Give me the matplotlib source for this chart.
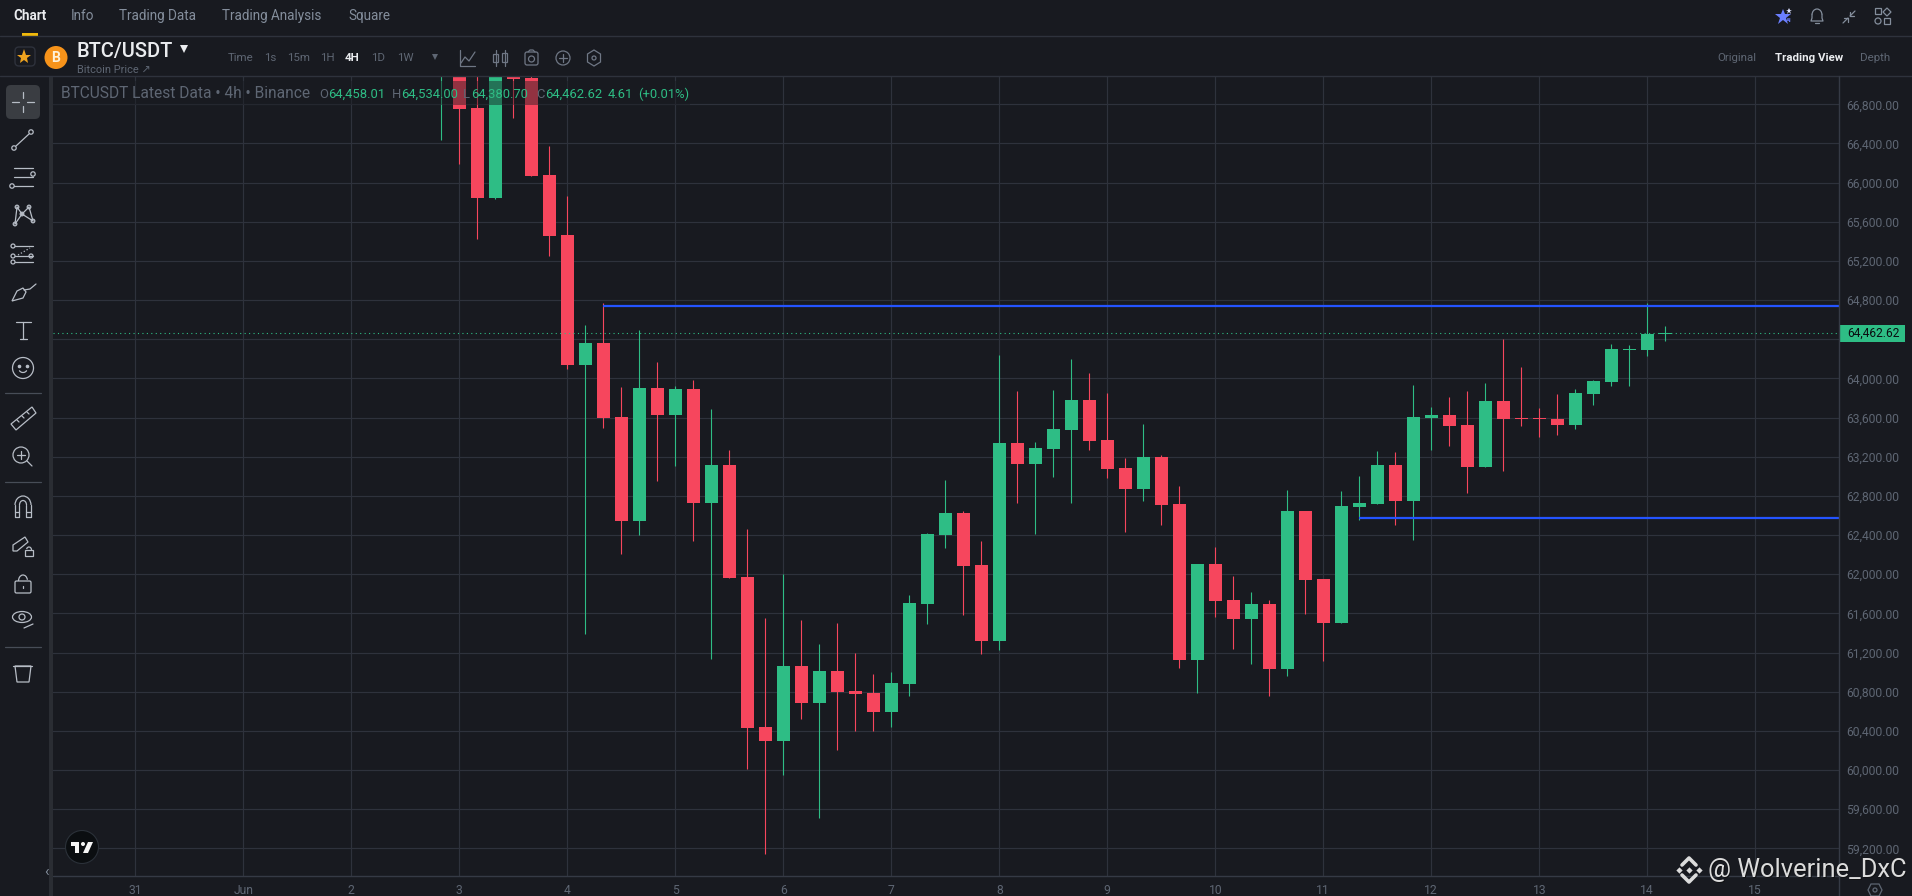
import numpy as np
import matplotlib
matplotlib.use('Agg')
import matplotlib.pyplot as plt
from matplotlib.patches import Circle, Ellipse, FancyBboxPatch, Polygon, Rectangle, Arc

plt.rcParams['font.family'] = ['Roboto', 'DejaVu Sans']

# 4h candles, first one is Jun 2 20:00. Those above the top of the window are estimates
first_day = 2 + 5 / 6
opens = [67200, 67200, 66762, 65842, 67130, 67068, 66077, 65464, 64137, 64361, 63605, 62543,
         63902, 63626, 63891, 62727, 63115, 61971, 60439, 60296, 61062, 60684, 61011, 60806,
         60786, 60592, 60878, 61695, 62400, 62625, 62094, 61317, 63340, 63125, 63279, 63473,
         63779, 63370, 63084, 62870, 63197, 62717, 61123, 62104, 61736, 61542, 61695, 61031,
         62645, 61951, 61501, 62686, 62717, 63115, 62747, 63595, 63626, 63524, 63095, 63769,
         63595, 63595, 63585, 63524, 63840, 63963, 64290, 64290, 64458.01]
highs = [67300, 67250, 67150, 67200, 67180, 67100, 66374, 65863, 64545, 64770, 63912, 64494,
         64167, 63922, 63983, 63687, 63268, 62461, 61552, 62002, 61532, 61287, 61501, 61195,
         60980, 61001, 61787, 62420, 62962, 62645, 62339, 64239, 63871, 63350, 63881, 64198,
         64055, 63851, 63186, 63534, 63217, 62901, 62104, 62277, 61981, 61818, 61736, 62860,
         62645, 61951, 62849, 63003, 63258, 63248, 63932, 63707, 63810, 63871, 63953, 64402,
         64116, 63697, 63840, 63891, 63983, 64351, 64341, 64770, 64534.00]
lows = [66435, 66190, 65424, 65832, 66660, 66067, 65250, 64096, 61389, 63493, 62206, 62400,
        62952, 63105, 62339, 61133, 61961, 60010, 59141, 59948, 60520, 59509, 60204, 60398,
        60398, 60439, 60755, 61491, 62267, 61583, 61184, 61225, 62727, 62410, 62992, 62727,
        63268, 62982, 62431, 62747, 62502, 61041, 60786, 61562, 61235, 61082, 60755, 60960,
        61593, 61113, 61501, 62553, 62717, 62502, 62349, 63268, 63309, 62829, 63095, 63054,
        63513, 63401, 63421, 63483, 63728, 63922, 63922, 64228, 64380.70]
closes = [67250, 66752, 65842, 67140, 67058, 66067, 65454, 64137, 64361, 63595, 62543, 63902,
          63626, 63891, 62727, 63115, 61961, 60428, 60296, 61062, 60684, 61011, 60796, 60776,
          60592, 60888, 61705, 62410, 62625, 62083, 61317, 63340, 63125, 63289, 63483, 63779,
          63360, 63074, 62870, 63197, 62706, 61123, 62104, 61726, 61542, 61695, 61031, 62645,
          61940, 61501, 62696, 62727, 63115, 62747, 63605, 63626, 63513, 63095, 63769, 63585,
          63585, 63585, 63524, 63851, 63973, 64300, 64300, 64458.01, 64462.62]

level_prices = [64739, 62574]
level_starts = [4 + 2 / 6, 11 + 2 / 6]
last_price = 64462.62

y_ticks = [59200, 59600, 60000, 60400, 60800, 61200, 61600, 62000, 62400, 62800, 63200, 63600,
           64000, 64400, 64800, 65200, 65600, 66000, 66400, 66800]
x_ticks = [0, 1, 2, 3, 4, 5, 6, 7, 8, 9, 10, 11, 12, 13, 14, 15]
x_labels = ['31', 'Jun', '2', '3', '4', '5', '6', '7', '8', '9', '10', '11', '12', '13', '14', '15']

BG = '#181a20'
GRID = '#2e323c'
UP = '#2ebd85'
DOWN = '#f6465d'
BLUE = '#2454ff'
MUTED = '#848e9c'
AXIS_TXT = '#5e6673'
ICON = '#b7bdc6'

W, H = 1912, 896
fig = plt.figure(figsize=(W / 100, H / 100), dpi=100, facecolor=BG)

"""
Chart window
"""
left, right, top, bottom = 53, 1839.5, 76.3, 876.3
ax = fig.add_axes([left / W, 1 - bottom / H, (right - left) / W, (bottom - top) / H], facecolor=BG)
ax.set_xlim(-0.762, 15.78)
ax.set_ylim(58914, 67086)

times = first_day + np.arange(len(opens)) / 6
o = np.array(opens)
c = np.array(closes)
up = c >= o
colors = np.where(up, UP, DOWN)

ax.vlines(times, lows, highs, colors=colors, lw=0.8, zorder=3)
heights = np.maximum(np.abs(c - o), 10)
ax.bar(times, heights, bottom=np.minimum(o, c), width=13 / 108, color=colors, lw=0, zorder=4)

ax.set_xticks(x_ticks)
ax.set_xticklabels(x_labels)
ax.set_yticks(y_ticks)
# the 64,400 label sits behind the price tag in the picture
ax.set_yticklabels(['' if v == 64400 else '{:,.2f}'.format(v) for v in y_ticks])
ax.yaxis.tick_right()
ax.grid(True, color=GRID, lw=0.85, zorder=0)
ax.set_axisbelow(True)
ax.tick_params(axis='y', length=0, pad=5.0, labelsize=8.7, labelcolor=AXIS_TXT)
ax.tick_params(axis='x', length=0, pad=5.5, labelsize=8.7, labelcolor=AXIS_TXT)
for lbl in ax.get_yticklabels():
    lbl.set_va('center_baseline')
for s in ax.spines.values():
    s.set_visible(False)

ax.hlines(level_prices, level_starts, 15.78, colors=BLUE, lw=1.6, zorder=5)
ax.axhline(last_price, color=UP, lw=0.8, ls=(0, (1, 3)), zorder=6)

"""
Interface drawn over the chart, in pixels
"""
ui = fig.add_axes([0, 0, 1, 1], zorder=10)
ui.set_xlim(0, W)
ui.set_ylim(H, 0)
ui.axis('off')


def txt(x, y, s, px=12, color=MUTED, weight='normal', ha='left', **kw):
    ui.text(x, y, s, fontsize=px * 0.72, color=color, fontweight=weight, ha=ha, va='center', **kw)


def ln(xs, ys, color=ICON, lw=0.9, **kw):
    ui.plot(xs, ys, color=color, lw=lw, solid_capstyle='round', **kw)


def ring(x, y, r, color=ICON, lw=0.9):
    ui.add_patch(Circle((x, y), r, fill=False, ec=color, lw=lw))


# frame lines
ln([0, W], [36, 36], GRID, 1.0)
ln([0, W], [76, 76], GRID, 1.0)
ln([left, right], [bottom, bottom], '#353a45', 1.0)
ln([right, right], [76, H], '#353a45', 1.0)
ui.add_patch(Rectangle((49.5, 76), 3.5, H - 76, fc='#2a2d33', lw=0))
ui.add_patch(Rectangle((22, 33.5), 16, 2.5, fc='#f0b90b', lw=0))

# tabs
txt(13, 16, 'Chart', 13.5, '#eaecef', 'bold')
for x, s in [(71, 'Info'), (119, 'Trading Data'), (222, 'Trading Analysis'), (348, 'Square')]:
    txt(x, 16, s, 13.5, MUTED)

# symbol row
ui.add_patch(FancyBboxPatch((15, 47), 20, 19, boxstyle='round,pad=0,rounding_size=4', fc='none', ec='#2e323c', lw=1))
ui.plot([24.5], [57.5], marker='*', ms=11, color='#f0a41f', mew=0)
ui.add_patch(Circle((56, 57.5), 11.5, fc='#f7931a', lw=0))
txt(56, 57.5, 'B', 14, '#fff1d8', 'bold', ha='center')
txt(77, 52, 'BTC/USDT', 20, '#eaecef', 'medium')
ui.plot([184], [49], marker='v', ms=5.5, color='#eaecef', mew=0)
txt(77, 70, 'Bitcoin Price ↗', 11, AXIS_TXT)
for x, s in [(228, 'Time'), (264, '1s'), (287, '15m'), (320, '1H'), (371, '1D'), (397, '1W')]:
    txt(x, 58, s, 11.5, AXIS_TXT)
txt(345, 58, '4H', 11.5, '#eaecef', 'bold')
ui.plot([435], [57], marker='v', ms=4.5, color=AXIS_TXT, mew=0)

# chart tools in the symbol row
TOOL = '#6f7785'
ln([460, 460, 475], [50, 66, 66], TOOL)
ln([461, 465, 469, 475], [63, 57, 61, 52], TOOL)
ln([496, 496], [50, 66], TOOL)
ln([505, 505], [50, 66], TOOL)
ui.add_patch(Rectangle((493.5, 54), 5, 8, fc=BG, ec=TOOL, lw=0.9))
ui.add_patch(Rectangle((502.5, 53), 5, 9, fc=BG, ec=TOOL, lw=0.9))
ui.add_patch(FancyBboxPatch((525, 52), 13, 13, boxstyle='round,pad=0,rounding_size=2', fc='none', ec=TOOL, lw=0.9))
ln([528, 530, 533, 535], [52, 50, 50, 52], TOOL)
ring(531.5, 59, 3, TOOL)
ring(563, 58, 7, TOOL)
ln([559, 567], [58, 58], TOOL)
ln([563, 563], [54, 62], TOOL)
ui.add_patch(Polygon([(594, 50), (600.5, 54), (600.5, 62), (594, 66), (587.5, 62), (587.5, 54)], fill=False, ec=TOOL, lw=0.9))
ring(594, 58, 2, TOOL)

# right side of the header
txt(1717, 58, 'Original', 11.5, AXIS_TXT)
txt(1775, 58, 'Trading View', 11.5, '#eaecef', 'bold')
txt(1860, 58, 'Depth', 11.5, AXIS_TXT)
ui.plot([1783], [17], marker='*', ms=12, color='#6b7fff', mew=0)
ui.plot([1789], [11], marker='*', ms=5, color='#dfe3ff', mew=0)
txt(1789, 21, 'AI', 6, '#6b7fff', 'bold', ha='center')
ui.add_patch(Arc((1817, 15), 10, 12, theta1=180, theta2=360, ec=MUTED, lw=0.9))
ln([1812, 1812, 1811, 1823, 1822, 1822], [15, 18, 21, 21, 18, 15], MUTED)
ln([1815, 1819], [23, 23], MUTED)
ln([1843, 1848], [23, 18], MUTED)
ln([1844, 1848, 1848], [18, 18, 22], MUTED)
ln([1850, 1855], [16, 11], MUTED)
ln([1850, 1850, 1854], [12, 16, 16], MUTED)
for x, y in [(1878, 11)]:
    ui.add_patch(Rectangle((x - 3, y - 3), 6, 6, fill=False, ec=MUTED, lw=0.9))
ui.add_patch(Rectangle((1884, 18), 6, 6, fill=False, ec=MUTED, lw=0.9))
ring(1878, 21, 3, MUTED)
ui.add_patch(Polygon([(1887, 8), (1891, 12), (1887, 16), (1883, 12)], fill=False, ec=MUTED, lw=0.9))

# legend strip
ui.add_patch(Rectangle((left, 81), 637, 24, fc=BG, alpha=0.45, lw=0))
txt(61, 94, 'BTCUSDT Latest Data • 4h • Binance', 15.5, AXIS_TXT)
for x, s in [(319, 'O'), (392, 'H'), (463, 'L'), (536, 'C')]:
    txt(x, 94, s, 13, AXIS_TXT)
for x, s in [(328, '64,458.01'), (401, '64,534.00'), (471, '64,380.70'), (545, '64,462.62'),
             (608, '4.61'), (638, '(+0.01%)')]:
    txt(x, 94, s, 13, UP)

# price tag
ui.add_patch(Rectangle((1840, 325), 65, 17, fc=UP, lw=0))
txt(1847, 333.5, '64,462.62', 12, '#0b0e11')

# side toolbar
ui.add_patch(FancyBboxPatch((6, 85), 34, 34, boxstyle='round,pad=0,rounding_size=5', fc='#3a3d42', lw=0))
ln([12, 19], [102, 102])
ln([27, 34], [102, 102])
ln([23, 23], [92, 98])
ln([23, 23], [106, 112])
ring(14, 148, 2.2)
ring(31, 132, 2.2)
ln([16, 29], [146, 134])
for y in [168, 177, 186]:
    ln([14, 33], [y, y])
ring(33, 174, 2.2)
ring(12, 186, 2.2)
pts = [(15, 224), (17, 207), (22, 214), (29, 207), (33, 221)]
for a, b in [(0, 1), (1, 2), (2, 3), (3, 4), (2, 4), (0, 2)]:
    ln([pts[a][0], pts[b][0]], [pts[a][1], pts[b][1]])
for p in pts:
    ring(p[0], p[1], 1.8)
for y in [246, 256, 262]:
    ln([15, 33], [y, y])
    ring(13, y, 2)
ring(31, 256, 2)
ln([18, 30], [255, 248], ls=':')
ui.add_patch(Polygon([(12, 301), (17, 291), (23, 288), (26, 292), (23, 298)], fill=False, ec=ICON, lw=0.9))
ln([24, 30, 36], [290, 289, 284])
ln([16, 31], [322, 322])
ln([23.5, 23.5], [322, 339])
ln([20, 27], [339, 339])
ring(23, 368, 10.5)
ui.plot([19, 27], [366, 366], ls='', marker='o', ms=1.6, color=ICON)
ui.add_patch(Arc((23, 369), 8, 7, theta1=20, theta2=160, ec=ICON, lw=0.9))
for y in [393, 482, 647]:
    ln([5, 41], [y, y], '#474d57', 0.9)
ui.add_patch(Polygon([(11, 424), (32, 407), (36, 413), (16, 430)], fill=False, ec=ICON, lw=0.9))
ln([17, 19], [420, 422])
ln([22, 24], [416, 418])
ln([27, 29], [412, 414])
ring(21, 455, 8)
ln([17, 25], [455, 455])
ln([21, 21], [451, 459])
ln([27, 32], [461, 466])
ui.add_patch(Arc((23, 505), 16, 18, theta1=180, theta2=360, ec=ICON, lw=0.9))
ui.add_patch(Arc((23, 505), 7, 9, theta1=180, theta2=360, ec=ICON, lw=0.9))
ln([15, 15, 19.5, 19.5], [505, 517, 517, 505])
ln([31, 31, 26.5, 26.5], [505, 517, 517, 505])
ln([15, 19.5], [512, 512])
ln([26.5, 31], [512, 512])
ui.add_patch(Polygon([(13, 551), (13, 545), (25, 537), (28, 542), (17, 551)], fill=False, ec=ICON, lw=0.9))
ui.add_patch(Rectangle((25, 550), 8, 6, fill=False, ec=ICON, lw=0.9))
ui.add_patch(Arc((29, 550), 5, 6, theta1=200, theta2=360, ec=ICON, lw=0.9))
ui.add_patch(FancyBboxPatch((15, 581), 16, 12, boxstyle='round,pad=0,rounding_size=1.5', fc='none', ec=ICON, lw=0.9))
ui.add_patch(Arc((23, 581), 9, 12, theta1=180, theta2=345, ec=ICON, lw=0.9))
ln([23, 23], [586, 588])
ui.add_patch(Ellipse((22, 617), 19, 11, fill=False, ec=ICON, lw=0.9))
ring(22, 617, 3)
ln([24, 33], [628, 624])
ui.add_patch(Polygon([(15, 666), (31, 666), (29, 682), (17, 682)], fill=False, ec=ICON, lw=0.9))
ln([13.5, 32.5], [666, 666])

# tradingview badge, gear and collapse arrow
ui.add_patch(Circle((82, 847), 16.5, fc='#0b0e11', ec='#2b3139', lw=0.8))
ui.add_patch(Polygon([(71, 842), (79, 842), (79, 853), (75, 853), (75, 846), (71, 846)], fc='#f5f5f5', lw=0))
ui.add_patch(Circle((83, 844), 2, fc='#f5f5f5', lw=0))
ui.add_patch(Polygon([(88, 842), (93, 842), (88, 853), (83, 853)], fc='#f5f5f5', lw=0))
txt(46, 872, '‹', 15, MUTED, ha='center')
ui.add_patch(Polygon([(1868, 890), (1871, 884), (1879, 884), (1882, 890), (1879, 896), (1871, 896)], fill=False, ec=AXIS_TXT, lw=0.9))
ring(1875, 890, 2, AXIS_TXT)

# watermark
MARK = '#dcdcdc'
ui.plot([1689, 1679, 1699], [870, 870, 870], ls='', marker='D', ms=3.2, color=MARK, mew=0)
ln([1682, 1689, 1696], [865, 858, 865], MARK, 2.6)
ln([1682, 1689, 1696], [875, 882, 875], MARK, 2.6)
txt(1709.5, 871, '@ Wolverine_DxC', 25.5, '#111214')
txt(1708, 869.5, '@ Wolverine_DxC', 25.5, MARK)

fig.savefig('out.png', dpi=100, facecolor=BG)
